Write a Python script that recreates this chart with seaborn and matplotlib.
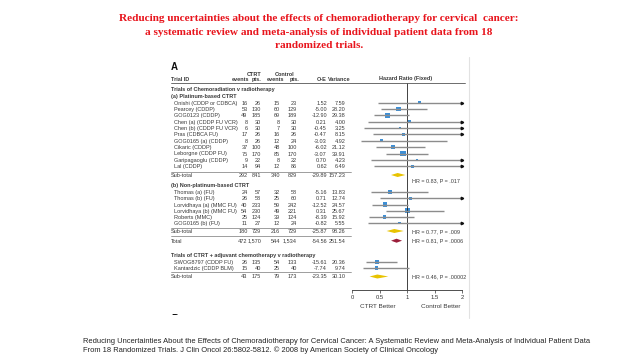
import numpy as np
import pandas as pd
import seaborn as sns
import matplotlib.pyplot as plt
from matplotlib.lines import Line2D
from matplotlib.transforms import Bbox

# ---- values ----
trials_a = ["Onishi (CDDP or CDBCA)", "Pearcey (CDDP)", "GOG0123 (CDDP)",
            "Chen (a) (CDDP FU VCR)", "Chen (b) (CDDP FU VCR)", "Pras (CDBCA FU)",
            "GOG0165 (a) (CDDP)", "Cikaric (CDDP)", "Leborgne (CDDP FU)",
            "Garipagaoglu (CDDP)", "Lal (CDDP)"]
ev_ctrt_a = [16, 53, 49, 8, 6, 17, 8, 37, 75, 9, 14]
pts_ctrt_a = [26, 130, 185, 30, 30, 26, 26, 100, 170, 22, 94]
ev_ctl_a = [15, 60, 69, 8, 7, 16, 12, 48, 85, 8, 12]
pts_ctl_a = [23, 129, 189, 30, 30, 26, 24, 100, 170, 22, 86]
oe_a = [1.52, -5.00, -12.90, 0.21, -0.45, -0.47, -3.03, -6.02, -3.07, 0.70, 0.62]
var_a = [7.59, 28.20, 29.38, 4.00, 3.25, 8.15, 4.92, 21.12, 39.91, 4.23, 6.49]
hr_a = [1.22, 0.84, 0.64, 1.05, 0.87, 0.94, 0.54, 0.75, 0.93, 1.18, 1.10]
lo_a = [0.48, 0.52, 0.40, 0.29, 0.21, 0.38, 0.17, 0.43, 0.62, 0.34, 0.40]
hi_a = [3.11, 1.36, 1.04, 3.82, 3.63, 2.33, 1.73, 1.32, 1.39, 4.13, 3.03]

trials_b = ["Thomas (a) (FU)", "Thomas (b) (FU)", "Lorvidhaya (a) (MMC FU)",
            "Lorvidhaya (b) (MMC FU)", "Roberts (MMC)", "GOG0165 (b) (FU)"]
ev_ctrt_b = [24, 26, 40, 54, 25, 11]
pts_ctrt_b = [57, 58, 233, 230, 124, 27]
ev_ctl_b = [32, 25, 59, 49, 39, 12]
pts_ctl_b = [58, 60, 242, 221, 124, 24]
oe_b = [-5.16, 0.71, -12.52, 0.31, -8.39, -0.82]
var_b = [13.83, 12.74, 24.57, 25.67, 15.92, 5.55]
hr_b = [0.69, 1.06, 0.60, 1.01, 0.59, 0.86]
lo_b = [0.34, 0.51, 0.36, 0.61, 0.31, 0.29]
hi_b = [1.38, 2.18, 1.01, 1.68, 1.13, 2.57]

trials_c = ["SWOG8797 (CDDP FU)", "Kantardzic (CDDP BLM)"]
ev_ctrt_c = [26, 15]
pts_ctrt_c = [135, 40]
ev_ctl_c = [54, 25]
pts_ctl_c = [133, 40]
oe_c = [-15.61, -7.74]
var_c = [20.36, 9.74]
hr_c = [0.46, 0.45]
lo_c = [0.26, 0.20]
hi_c = [0.82, 1.03]

# pooled rows: sub-total (a), sub-total (b), total, sub-total (c)
pool_names = ["Sub-total", "Sub-total", "Total", "Sub-total"]
pool_ev_ctrt = [292, 180, 472, 43]
pool_pts_ctrt = [841, 729, 1570, 175]
pool_ev_ctl = [340, 216, 544, 79]
pool_pts_ctl = [829, 729, 1534, 173]
pool_oe = [-29.89, -25.87, -54.56, -23.35]
pool_var = [157.23, 98.26, 251.54, 30.10]
pool_hr = [0.83, 0.77, 0.81, 0.46]
pool_lo = [0.71, 0.63, 0.71, 0.32]
pool_hi = [0.97, 0.94, 0.91, 0.66]
pool_text = ["HR = 0.83, P = .017", "HR = 0.77, P = .009",
             "HR = 0.81, P = .0006", "HR = 0.46, P = .00002"]

x_ticks = [0, 0.5, 1, 1.5, 2]
x_ticklabels = ["0", "0.5", "1", "1.5", "2"]

# ---- layout (pixel rows, figure is 638 x 359) ----
W, H = 638, 359
step = 6.35
y_a = [102.7 + step * i for i in range(len(trials_a))]
y_b = [192.3 + 6.15 * i for i in range(len(trials_b))]
y_c = [262.0 + 6.0 * i for i in range(len(trials_c))]
y_pool = [175.0, 231.0, 240.7, 276.5]

df = pd.DataFrame({
    "name": trials_a + trials_b + trials_c,
    "ev_ctrt": ev_ctrt_a + ev_ctrt_b + ev_ctrt_c,
    "pts_ctrt": pts_ctrt_a + pts_ctrt_b + pts_ctrt_c,
    "ev_ctl": ev_ctl_a + ev_ctl_b + ev_ctl_c,
    "pts_ctl": pts_ctl_a + pts_ctl_b + pts_ctl_c,
    "oe": oe_a + oe_b + oe_c,
    "var": var_a + var_b + var_c,
    "hr": hr_a + hr_b + hr_c,
    "lo": lo_a + lo_b + lo_c,
    "hi": hi_a + hi_b + hi_c,
    "y": y_a + y_b + y_c,
})

sns.set_theme(style="white")
plt.rcParams['font.family'] = ['Liberation Sans', 'DejaVu Sans']

fig = plt.figure(figsize=(W / 100, H / 100), dpi=100)
fig.patch.set_facecolor("white")


def fx(x):
    return x / W


def fy(y):
    return 1 - y / H


def ptext(x, y, s, **kw):
    kw.setdefault("fontsize", 4.0)
    kw.setdefault("color", "#3a3a3a")
    kw.setdefault("va", "center_baseline")
    return fig.text(fx(x), fy(y), s, **kw)


# title
red = "#e8141c"
for s, yy in zip(["Reducing uncertainties about the effects of chemoradiotherapy for cervical  cancer:",
                  "a systematic review and meta-analysis of individual patient data from 18",
                  "randomized trials."], [17.5, 31.5, 45]):
    fig.text(0.5, fy(yy), s, ha="center", va="center_baseline", color=red, fontsize=8.1,
             fontweight="bold", family="Liberation Serif")

# citation
ptext(83, 340.5, "Reducing Uncertainties About the Effects of Chemoradiotherapy for Cervical Cancer: "
      "A Systematic Review and Meta-Analysis of Individual Patient Data", fontsize=5.4, color="#222222")
ptext(83, 349, "From 18 Randomized Trials. J Clin Oncol 26:5802-5812. \u00a9 2008 by American Society "
      "of Clinical Oncology", fontsize=5.4, color="#222222")

# forest axes: 0..2 spans x 352..462 px, rows map 1:1 to pixels
ax = fig.add_axes([fx(352), fy(290), fx(462) - fx(352), fy(83) - fy(290)])
ax.set_xlim(0, 2)
ax.set_ylim(290, 83)
ax.patch.set_alpha(0)
for sp in ["top", "right", "left"]:
    ax.spines[sp].set_visible(False)
ax.spines["bottom"].set_linewidth(0.6)
ax.spines["bottom"].set_color("#333333")
ax.set_yticks([])
ax.set_xticks(x_ticks)
ax.set_xticklabels(x_ticklabels, fontsize=4.2, color="#333333")
ax.tick_params(axis="x", length=2, width=0.5, pad=1.5, color="#333333", bottom=True)
ax.axvline(1, color="#222222", lw=0.6)

# CI lines
for _, r in df.iterrows():
    ax.plot([r["lo"], min(r["hi"], 2)], [r["y"], r["y"]], color="#8c8c8c", lw=1.0,
            solid_capstyle="butt", clip_on=False)
    if r["hi"] > 2:
        ax.plot(2, r["y"], marker=">", ms=1.8, color="#111111", clip_on=False)

sns.scatterplot(data=df, x="hr", y="y", size="var", sizes=(3, 16), marker="s",
                color="#3d8fd6", edgecolor="none", legend=False, ax=ax, clip_on=False)

for k in range(4):
    col = "#9b1e3a" if pool_names[k] == "Total" else "#e8c300"
    yy = y_pool[k]
    ax.fill([pool_lo[k], pool_hr[k], pool_hi[k], pool_hr[k]],
            [yy, yy - 2.0, yy, yy + 2.0], color=col, lw=0)
ax.set_xlabel("")
ax.set_ylabel("")

for k, yy in enumerate(y_pool):
    ptext(412, yy + (5 if k == 0 else 0), pool_text[k], fontsize=3.9)

ptext(378, 306, "CTRT Better", ha="center", fontsize=4.6)
ptext(441, 306, "Control Better", ha="center", fontsize=4.6)

# table
cols_x = [247.5, 261, 280, 297, 327, 345.5]


def fmt_n(v):
    return f"{v:,}"


def row_vals(ev1, p1, ev2, p2, oe, v):
    return [fmt_n(ev1), fmt_n(p1), fmt_n(ev2), fmt_n(p2), f"{oe:.2f}", f"{v:.2f}"]


ptext(171, 66.5, "A", fontsize=7, fontweight="bold", color="#111111")
ptext(254, 73.5, "CTRT", ha="center", fontweight="bold")
ptext(285, 73.5, "Control", ha="center", fontweight="bold")
ptext(171, 79, "Trial ID", fontweight="bold")
for s, xx in zip(["events", "pts.", "events", "pts."], [249, 261.5, 284, 299]):
    ptext(xx, 79, s, ha="right", fontweight="bold")
ptext(327, 79, "O-E", ha="right", fontweight="bold")
ptext(351, 79, "Variance", ha="right", fontweight="bold")
ptext(406, 78, "Hazard Ratio (Fixed)", ha="center", fontweight="bold")
fig.add_artist(Line2D([fx(171), fx(465)], [fy(82.5), fy(82.5)], color="#555555", lw=0.6))

ptext(171, 89, "Trials of Chemoradiation v radiotherapy", fontweight="bold")
ptext(171, 96, "(a) Platinum-based CTRT", fontweight="bold")
ptext(171, 185, "(b) Non-platinum-based CTRT", fontweight="bold")
ptext(171, 255.5, "Trials of CTRT + adjuvant chemotherapy v radiotherapy", fontweight="bold")

for _, r in df.iterrows():
    ptext(174, r["y"], r["name"])
    for s, xx in zip(row_vals(r["ev_ctrt"], r["pts_ctrt"], r["ev_ctl"], r["pts_ctl"],
                              r["oe"], r["var"]), cols_x):
        ptext(xx, r["y"], s, ha="right")

for k, yy in enumerate(y_pool):
    ptext(171, yy, pool_names[k])
    for s, xx in zip(row_vals(pool_ev_ctrt[k], pool_pts_ctrt[k], pool_ev_ctl[k],
                              pool_pts_ctl[k], pool_oe[k], pool_var[k]), cols_x):
        ptext(xx, yy, s, ha="right")

for yy in [171.5, 227.5, 236.0, 272.0]:
    fig.add_artist(Line2D([fx(171), fx(351)], [fy(yy), fy(yy)], color="#777777", lw=0.5))

# right edge of the embedded figure
fig.add_artist(Line2D([fx(469), fx(469)], [fy(57), fy(318)], color="#e2e2e2", lw=0.8))

# panel B label, cut off at the bottom of the embedded picture
b = ptext(171, 317.5, "B", fontsize=7, fontweight="bold", color="#111111")
b.set_clip_box(Bbox.from_extents(160, H - 315, 200, H - 305))
b.set_clip_on(True)

fig.savefig("out.png", dpi=100)
